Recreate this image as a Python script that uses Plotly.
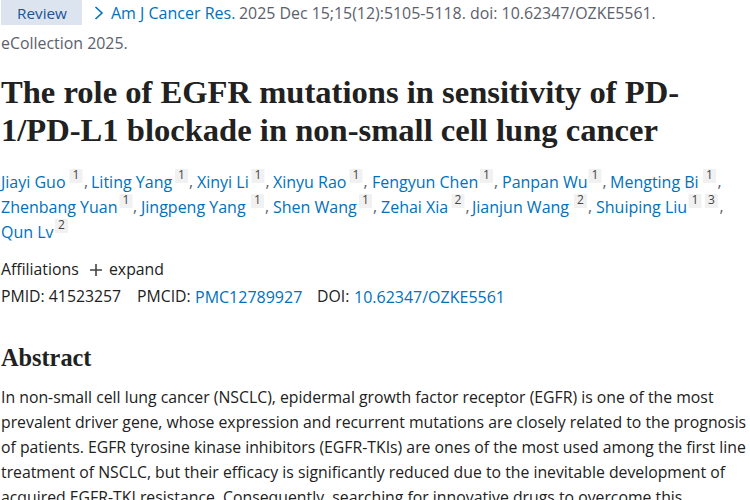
import plotly.graph_objects as go

BODY_FONT = "Open Sans"
SERIF_FONT = "Liberation Serif"
BLUE = "#0071bc"
GRAY = "#5b616b"
INK = "#212121"

title_lines = [
    "The role of EGFR mutations in sensitivity of PD-",
    "1/PD-L1 blockade in non-small cell lung cancer",
]
title_x = [1, 1]
title_y = [94.5, 132.5]

abstract_lines = [
    "In non-small cell lung cancer (NSCLC), epidermal growth factor receptor (EGFR) is one of the most",
    "prevalent driver gene, whose expression and recurrent mutations are closely related to the prognosis",
    "of patients. EGFR tyrosine kinase inhibitors (EGFR-TKIs) are ones of the most used among the first line",
    "treatment of NSCLC, but their efficacy is significantly reduced due to the inevitable development of",
    "acquired EGFR-TKI resistance. Consequently, searching for innovative drugs to overcome this",
]
abstract_y = [399, 424, 449, 474, 499]

# blue link runs
link_text = [
    "Am J Cancer Res.",
    "Jiayi Guo", "Liting Yang", "Xinyi Li", "Xinyu Rao", "Fengyun Chen", "Panpan Wu", "Mengting Bi",
    "Zhenbang Yuan", "Jingpeng Yang", "Shen Wang", "Zehai Xia", "Jianjun Wang", "Shuiping Liu",
    "Qun Lv",
    "PMC12789927", "10.62347/OZKE5561",
]
link_x = [
    111,
    1, 91, 197, 273, 372, 502, 610,
    1, 141, 273, 381, 472, 596,
    1,
    195, 354,
]
link_y = [15] + [183.5] * 7 + [208.5] * 6 + [233.5] + [298.5, 298.5]

# affiliation chips after the author names
sup_text = ["1", "1", "1", "1", "1", "1", "1", "1", "1", "1", "2", "2", "1", "3", "2"]
sup_x = [76, 181.5, 258, 356, 486.5, 595, 709.5, 126, 257.5, 365.5, 458, 580.5, 695, 711.5, 61.5]
sup_y = [176] * 7 + [201] * 7 + [226]

comma_x = [84, 189, 265.5, 363.5, 494, 602.5, 717.5, 133, 265, 373, 465.5, 588, 719.5]
comma_y = [183.5] * 7 + [208.5] * 6

gray_text = ["2025 Dec 15;15(12):5105-5118. doi: 10.62347/OZKE5561.", "eCollection 2025."]
gray_x = [239, 1]
gray_y = [15, 45]

dark_text = ["Affiliations", "expand", "PMID: 41523257", "PMCID:", "DOI:"]
dark_x = [1, 109, 1, 137, 317]
dark_y = [271, 271, 298.5, 298.5, 298.5]

fig = go.Figure()


def add_text(text, x, y, size, color, family=BODY_FONT, weight="normal", position="middle right"):
    fig.add_trace(
        go.Scatter(
            x=x,
            y=y,
            text=text,
            mode="text",
            textposition=position,
            textfont=dict(family=family, size=size, color=color, weight=weight),
            hoverinfo="skip",
        )
    )


fig.add_shape(type="rect", x0=1, x1=82, y0=0, y1=25, fillcolor="#dce4ef", line_width=0, layer="below")
fig.add_shape(type="path", path="M 95.5 7 L 102 13 L 95.5 19", line=dict(color=BLUE, width=1.6))
fig.add_shape(type="path", path="M 96 264 L 96 276 M 90 270 L 102 270", line=dict(color="#444444", width=1.6))
for sx, sy in zip(sup_x, sup_y):
    fig.add_shape(
        type="rect", x0=sx - 6.5, x1=sx + 6.5, y0=sy - 7, y1=sy + 7,
        fillcolor="#f1f1f1", line_width=0, layer="below",
    )

add_text(["Review"], [17], [15], 15.3, "#205493")
add_text(link_text, link_x, link_y, 16, BLUE)
add_text(gray_text, gray_x, gray_y, 15.9, GRAY)
add_text(dark_text, dark_x, dark_y, 15.8, INK)
add_text(sup_text, sup_x, sup_y, 12, "#444444", position="middle center")
add_text([","] * len(comma_x), comma_x, comma_y, 15.8, GRAY)
add_text(title_lines, title_x, title_y, 32.6, INK, family=SERIF_FONT, weight="bold")
add_text(["Abstract"], [1], [359.5], 24.3, INK, family=SERIF_FONT, weight="bold")
add_text(abstract_lines, [1] * len(abstract_lines), abstract_y, 15.8, INK)

fig.update_layout(
    width=750,
    height=500,
    margin=dict(l=0, r=0, t=0, b=0),
    paper_bgcolor="white",
    plot_bgcolor="white",
    showlegend=False,
    xaxis=dict(range=[0, 750], visible=False, fixedrange=True),
    yaxis=dict(range=[500, 0], visible=False, fixedrange=True),
)

fig.write_html(
    "out.html",
    config=dict(displayModeBar=False),
    post_script="document.body.style.margin='0';",
)
